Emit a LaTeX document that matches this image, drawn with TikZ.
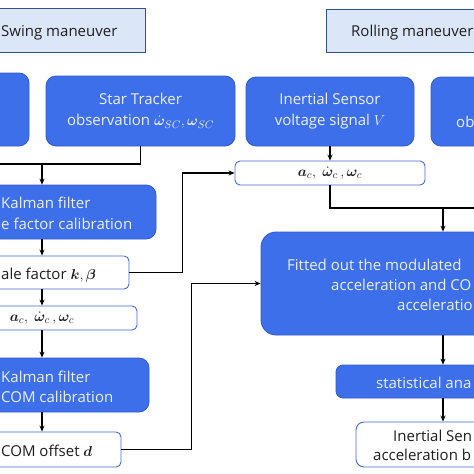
\documentclass[tikz,border=0pt]{standalone}
\usepackage{amsmath}
\usepackage{bm}
\usepackage{fontspec}
\setmainfont{Open Sans}
\usetikzlibrary{arrows.meta}
\definecolor{bfill}{RGB}{62,111,235}
\definecolor{bdraw}{RGB}{45,90,205}
\definecolor{wdraw}{RGB}{70,105,210}
\definecolor{mfill}{RGB}{219,231,248}
\definecolor{mdraw}{RGB}{50,80,140}
\definecolor{btext}{RGB}{235,240,255}
\definecolor{dtext}{RGB}{30,30,30}
\begin{document}
\begin{tikzpicture}[x=1pt,y=-1pt,
  every node/.style={font=\fontsize{15}{21}\selectfont},
  bluebox/.style={draw=bdraw, line width=0.8pt, fill=bfill, rounded corners=10pt, text=btext, align=center, inner sep=0pt},
  whitebox/.style={draw=wdraw, line width=0.9pt, fill=white, rounded corners=5pt, text=dtext, align=center, inner sep=0pt},
  mbox/.style={draw=mdraw, line width=1pt, fill=mfill, text=dtext, inner sep=0pt},
  arr/.style={-{Stealth[length=6pt,width=5pt]}, line width=1.2pt},
  link/.style={line width=1.2pt},
  wlbl/.style={anchor=base west, inner sep=0pt, text=btext},
  dlbl/.style={anchor=base west, inner sep=0pt, text=dtext},
  clbl/.style={anchor=base, inner sep=0pt, text=btext}]
\useasboundingbox (0,0) rectangle (474,474);
\clip (0,0) rectangle (474,474);
\fill[white] (0,0) rectangle (474,474);

% maneuver headers
\node[mbox, minimum width=175pt, minimum height=44pt] (swing) at (57.5,30) {};
\node[dlbl] (swingt) at (1,36) {Swing maneuver};
\node[mbox, minimum width=176pt, minimum height=43pt] (roll) at (414,30.5) {};
\node[dlbl] (rollt) at (351,36) {Rolling maneuver};

% top row
\node[bluebox, minimum width=149pt, minimum height=73pt] (lbox) at (-45.5,109.5) {};
\node[bluebox, minimum width=189pt, minimum height=70pt] (star) at (140.5,111) {Star Tracker\\observation $\dot{\bm\omega}_{SC},\bm\omega_{SC}$};
\node[bluebox, minimum width=168pt, minimum height=69pt] (ins) at (330,111.5) {Inertial Sensor\\voltage signal $V$};
\node[bluebox, minimum width=189pt, minimum height=69pt] (rbox) at (525.5,111.5) {};
\node[wlbl] (rboxt) at (456,127) {ob};

% left column
\node[bluebox, minimum width=228pt, minimum height=54pt] (kal1) at (42,212) {};
\node[wlbl] (kal1a) at (1,208) {Kalman filter};
\node[wlbl] (kal1b) at (1,229) {e factor calibration};
\node[whitebox, minimum width=174pt, minimum height=33pt] (sf) at (42,272.5) {};
\node[dlbl] (sft) at (1,279) {ale factor $\bm k,\bm\beta$};
\node[whitebox, minimum width=190pt, minimum height=24pt] (acl) at (42,318) {$\bm a_c,\ \dot{\bm\omega}_c\,,\bm\omega_c$};
\node[bluebox, minimum width=214pt, minimum height=54pt] (kal2) at (42,385) {};
\node[wlbl] (kal2a) at (1,382) {Kalman filter};
\node[wlbl] (kal2b) at (1,402) {COM calibration};
\node[whitebox, minimum width=158pt, minimum height=35pt] (com) at (42,449.5) {};
\node[dlbl] (comt) at (1,456) {COM offset $\bm d$};

% right column
\node[whitebox, minimum width=190pt, minimum height=24pt] (acr) at (330,173) {$\bm a_c,\ \dot{\bm\omega}_c\,,\bm\omega_c$};
\node[bluebox, rounded corners=15pt, minimum width=364pt, minimum height=103pt] (fit) at (443,283.5) {};
\node[wlbl] (fit1) at (287,270) {Fitted out the modulated};
\node[wlbl] (fit2) at (331,290) {acceleration and CO};
\node[wlbl] (fit3) at (397,310) {acceleratio};
\node[bluebox, rounded corners=7pt, minimum width=214pt, minimum height=33pt] (stat) at (443,381.5) {};
\node[wlbl] (statt) at (376,388) {statistical ana};
\node[whitebox, rounded corners=8pt, minimum width=174pt, minimum height=45pt] (isen) at (443,444.5) {};
\node[dlbl] (isen1) at (393,441) {Inertial Sen};
\node[dlbl] (isen2) at (373,460) {acceleration b};

% connectors
\coordinate (j1) at (42,164);
\coordinate (j1s) at (140.5,164);
\draw[link] (lbox.south) |- (j1s) -- (star.south);
\draw[arr] (j1) -- (kal1.north);
\draw[arr] (kal1.south) -- (sf.north);
\draw[arr] (sf.south) -- (acl.north);
\draw[arr] (acl.south) -- (kal2.north);
\draw[arr] (kal2.south) -- (com.north);
\draw[arr] (sf.east) -- ++(53,0) |- (acr.west);
\draw[arr] (com.east) -- ++(70,0) |- (fit.west);
\draw[arr] (ins.south) -- (acr.north);
\coordinate (j2) at (443,208);
\coordinate (j2r) at (525.5,208);
\draw[link] (acr.south) |- (j2r) -- (rbox.south);
\draw[arr] (j2) -- (fit.north);
\draw[arr] (fit.south) -- (stat.north);
\draw[arr] (stat.south) -- (isen.north);
\end{tikzpicture}
\end{document}
